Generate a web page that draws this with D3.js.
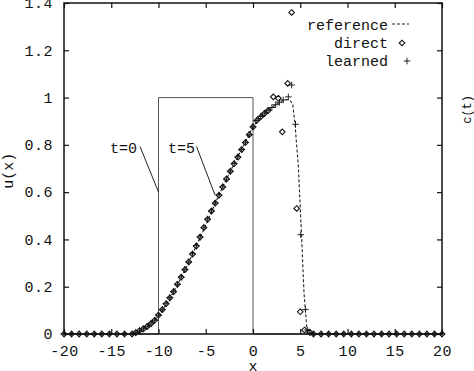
<!DOCTYPE html>
<html>
<head>
<meta charset="utf-8">
<script src="https://cdn.jsdelivr.net/npm/d3@7"></script>
<style>
  html, body { margin: 0; padding: 0; background: #fff; }
  text { font-family: "Liberation Mono", "DejaVu Sans Mono", monospace; fill: #111; }
</style>
</head>
<body>
<div id="chart"></div>
<script>
const W = 474, H = 371;

// tick values
const xTicks = [-20, -15, -10, -5, 0, 5, 10, 15, 20];
const yTicks = [0, 0.2, 0.4, 0.6, 0.8, 1, 1.2, 1.4];

// initial condition t=0 (box)
const initX = [-20, -10, -10, 0, 0, 20];
const initU = [0, 0, 1, 1, 0, 0];

// reference solution t=5 (dashed)
const refX = [-20, -13, -12.4, -12, -11.5, -11, -10.5, -10, -9.5, -9, -8.5, -8, -7.5, -7, -6.5, -6, -5, -4, -3, -2, -1, 0, 0.5, 1, 1.5, 2, 2.5, 3, 3.5, 3.9, 4.2, 4.44, 4.8, 5.15, 5.4, 5.68, 6.0, 6.5, 20];
const refU = [0, 0, 0.005, 0.013, 0.025, 0.038, 0.055, 0.078, 0.106, 0.138, 0.172, 0.208, 0.246, 0.287, 0.329, 0.372, 0.46, 0.553, 0.64, 0.72, 0.797, 0.876, 0.903, 0.925, 0.943, 0.958, 0.972, 0.984, 0.992, 0.99, 0.972, 0.89, 0.707, 0.405, 0.172, 0.031, 0.003, 0, 0];

// direct method samples
const directX = [-20, -19.2, -18.4, -17.6, -16.8, -16, -15.2, -14.4, -13.6, -12.8,
  -12.4, -12, -11.6, -11.2, -10.8, -10.4, -10, -9.6, -9.2, -8.8, -8.4, -8, -7.6, -7.2, -6.8, -6.4, -6, -5.6, -5.2, -4.8, -4.4, -4, -3.6, -3.2, -2.8, -2.4, -2, -1.6, -1.2, -0.8, -0.4, 0, 0.4, 0.8, 1.2, 1.6,
  2.15, 2.68, 3.1, 3.67, 4.09, 4.62, 5.0, 5.45, 6.0,
  6.4, 7.2, 8, 8.8, 9.6, 10.4, 11.2, 12, 12.8, 13.6, 14.4, 15.2, 16, 16.8, 17.6, 18.4, 19.2, 20];
const directU = [0, 0, 0, 0, 0, 0, 0, 0, 0, 0,
  0.006, 0.014, 0.022, 0.032, 0.044, 0.058, 0.08, 0.103, 0.128, 0.153, 0.179, 0.21, 0.24, 0.272, 0.305, 0.338, 0.372, 0.41, 0.45, 0.485, 0.52, 0.553, 0.587, 0.622, 0.656, 0.688, 0.72, 0.748, 0.78, 0.81, 0.843, 0.876, 0.903, 0.918, 0.932, 0.945,
  1.003, 0.997, 0.855, 1.06, 1.36, 0.531, 0.094, 0.017, 0.008,
  0, 0, 0, 0, 0, 0, 0, 0, 0, 0, 0, 0, 0, 0, 0, 0, 0, 0];

// learned method samples
const learnedX = [-20, -19.2, -18.4, -17.6, -16.8, -16, -15.2, -14.4, -13.6, -12.8,
  -12.4, -12, -11.6, -11.2, -10.8, -10.4, -10, -9.6, -9.2, -8.8, -8.4, -8, -7.6, -7.2, -6.8, -6.4, -6, -5.6, -5.2, -4.8, -4.4, -4, -3.6, -3.2, -2.8, -2.4, -2, -1.6, -1.2, -0.8, -0.4, 0, 0.4, 0.8, 1.2, 1.6,
  2.0, 2.4, 2.8, 3.2, 3.74, 4.09, 4.5, 5.05, 5.55, 5.75, 6.03,
  6.4, 7.2, 8, 8.8, 9.6, 10.4, 11.2, 12, 12.8, 13.6, 14.4, 15.2, 16, 16.8, 17.6, 18.4, 19.2, 20];
const learnedU = [0, 0, 0, 0, 0, 0, 0, 0, 0, 0,
  0.005, 0.013, 0.022, 0.031, 0.043, 0.058, 0.079, 0.104, 0.128, 0.154, 0.18, 0.21, 0.241, 0.273, 0.305, 0.339, 0.373, 0.41, 0.449, 0.486, 0.52, 0.554, 0.588, 0.622, 0.655, 0.689, 0.721, 0.75, 0.78, 0.811, 0.843, 0.877, 0.903, 0.92, 0.934, 0.946,
  0.958, 0.97, 0.98, 0.99, 1.003, 1.053, 0.887, 0.42, 0.104, 0.017, 0.005,
  0, 0, 0, 0, 0, 0, 0, 0, 0, 0, 0, 0, 0, 0, 0, 0, 0, 0];

const legendLabels = ["reference", "direct", "learned"];

const margin = {left: 64, right: 32, top: 3, bottom: 37};

const svg = d3.select("#chart")
  .append("svg")
  .attr("width", W)
  .attr("height", H);

const x = d3.scaleLinear()
  .domain([-20, 20])
  .range([margin.left, W - margin.right]);
const y = d3.scaleLinear()
  .domain([0, 1.4])
  .range([H - margin.bottom, margin.top]);

const line = d3.line().x(d => x(d[0])).y(d => y(d[1]));

// t=0 box
svg.append("path")
  .datum(d3.zip(initX, initU))
  .attr("fill", "none")
  .attr("stroke", "#555")
  .attr("stroke-width", 1)
  .attr("d", line);

// reference dashed
svg.append("path")
  .datum(d3.zip(refX, refU))
  .attr("fill", "none")
  .attr("stroke", "#222")
  .attr("stroke-width", 1.1)
  .attr("stroke-dasharray", "3,2")
  .attr("d", line);

// annotations
svg.append("line")
  .attr("x1", 140).attr("y1", 146.5)
  .attr("x2", x(-10)).attr("y2", 192)
  .attr("stroke", "#222").attr("stroke-width", 1);
svg.append("line")
  .attr("x1", 196.5).attr("y1", 146.5)
  .attr("x2", 215).attr("y2", 195)
  .attr("stroke", "#222").attr("stroke-width", 1);
svg.append("text").attr("x", 137).attr("y", 153).attr("text-anchor", "end")
  .style("font-size", "15px").text("t=0");
svg.append("text").attr("x", 195).attr("y", 153).attr("text-anchor", "end")
  .style("font-size", "15px").text("t=5");

const diamond = (g, cx, cy, r) => g.append("path")
  .attr("d", `M${cx},${cy - r}L${cx + r},${cy}L${cx},${cy + r}L${cx - r},${cy}Z`)
  .attr("fill", "none")
  .attr("stroke", "#111")
  .attr("stroke-width", 1.1);
const plus = (g, cx, cy, r) => g.append("path")
  .attr("d", `M${cx - r},${cy}H${cx + r}M${cx},${cy - r}V${cy + r}`)
  .attr("fill", "none")
  .attr("stroke", "#111")
  .attr("stroke-width", 0.9);

// markers
const markers = svg.append("g");
d3.zip(directX, directU).forEach(d => diamond(markers, x(d[0]), y(d[1]), 2.8));
d3.zip(learnedX, learnedU).forEach(d => plus(markers, x(d[0]), y(d[1]), 3.3));

// axes (ticks inward, mirrored)
const fmt = d => String(d);
const gx = svg.append("g")
  .attr("transform", `translate(0,${y(0)})`)
  .call(d3.axisBottom(x).tickValues(xTicks).tickSize(-5).tickPadding(11).tickFormat(fmt));
const gy = svg.append("g")
  .attr("transform", `translate(${x(-20)},0)`)
  .call(d3.axisLeft(y).tickValues(yTicks).tickSize(-5).tickPadding(11).tickFormat(fmt));
svg.append("g")
  .attr("transform", `translate(0,${y(1.4)})`)
  .call(d3.axisTop(x).tickValues(xTicks).tickSize(-5).tickFormat(""));
svg.append("g")
  .attr("transform", `translate(${x(20)},0)`)
  .call(d3.axisRight(y).tickValues(yTicks).tickSize(-5).tickFormat(""));

svg.selectAll(".domain").remove();
svg.selectAll(".tick line").attr("stroke", "#111").attr("stroke-width", 1.2);
[gx, gy].forEach(g => g.selectAll("text")
  .style("font-family", "'Liberation Mono', monospace")
  .style("font-size", "15px")
  .style("letter-spacing", "0.5px")
  .attr("fill", "#111"));

// frame
svg.append("rect")
  .attr("x", x(-20)).attr("y", y(1.4))
  .attr("width", x(20) - x(-20)).attr("height", y(0) - y(1.4))
  .attr("fill", "none").attr("stroke", "#111").attr("stroke-width", 1.5);

// axis labels
svg.append("text")
  .attr("transform", `translate(13,${y(0.69)}) rotate(-90)`)
  .attr("text-anchor", "middle")
  .style("font-size", "15px")
  .text("u(x)");
svg.append("text")
  .attr("x", x(0)).attr("y", 371)
  .attr("text-anchor", "middle")
  .style("font-size", "15px")
  .text("x");
svg.append("text")
  .attr("transform", `translate(471,${y(0.95)}) rotate(-90)`)
  .attr("text-anchor", "middle")
  .style("font-size", "12px")
  .attr("fill", "#777")
  .text("c(t)");

// legend
const legendY = [25, 43, 61];
legendLabels.forEach((t, i) => {
  svg.append("text")
    .attr("x", 388).attr("y", legendY[i])
    .attr("dy", "0.32em")
    .attr("text-anchor", "end")
    .style("font-size", "15px")
    .text(t);
});
svg.append("line")
  .attr("x1", 392).attr("x2", 409)
  .attr("y1", legendY[0] - 1).attr("y2", legendY[0] - 1)
  .attr("stroke", "#222").attr("stroke-width", 1.2)
  .attr("stroke-dasharray", "3,2");
diamond(svg, 402, legendY[1], 2.8);
plus(svg, 407, legendY[2], 3.3);
</script>
</body>
</html>
